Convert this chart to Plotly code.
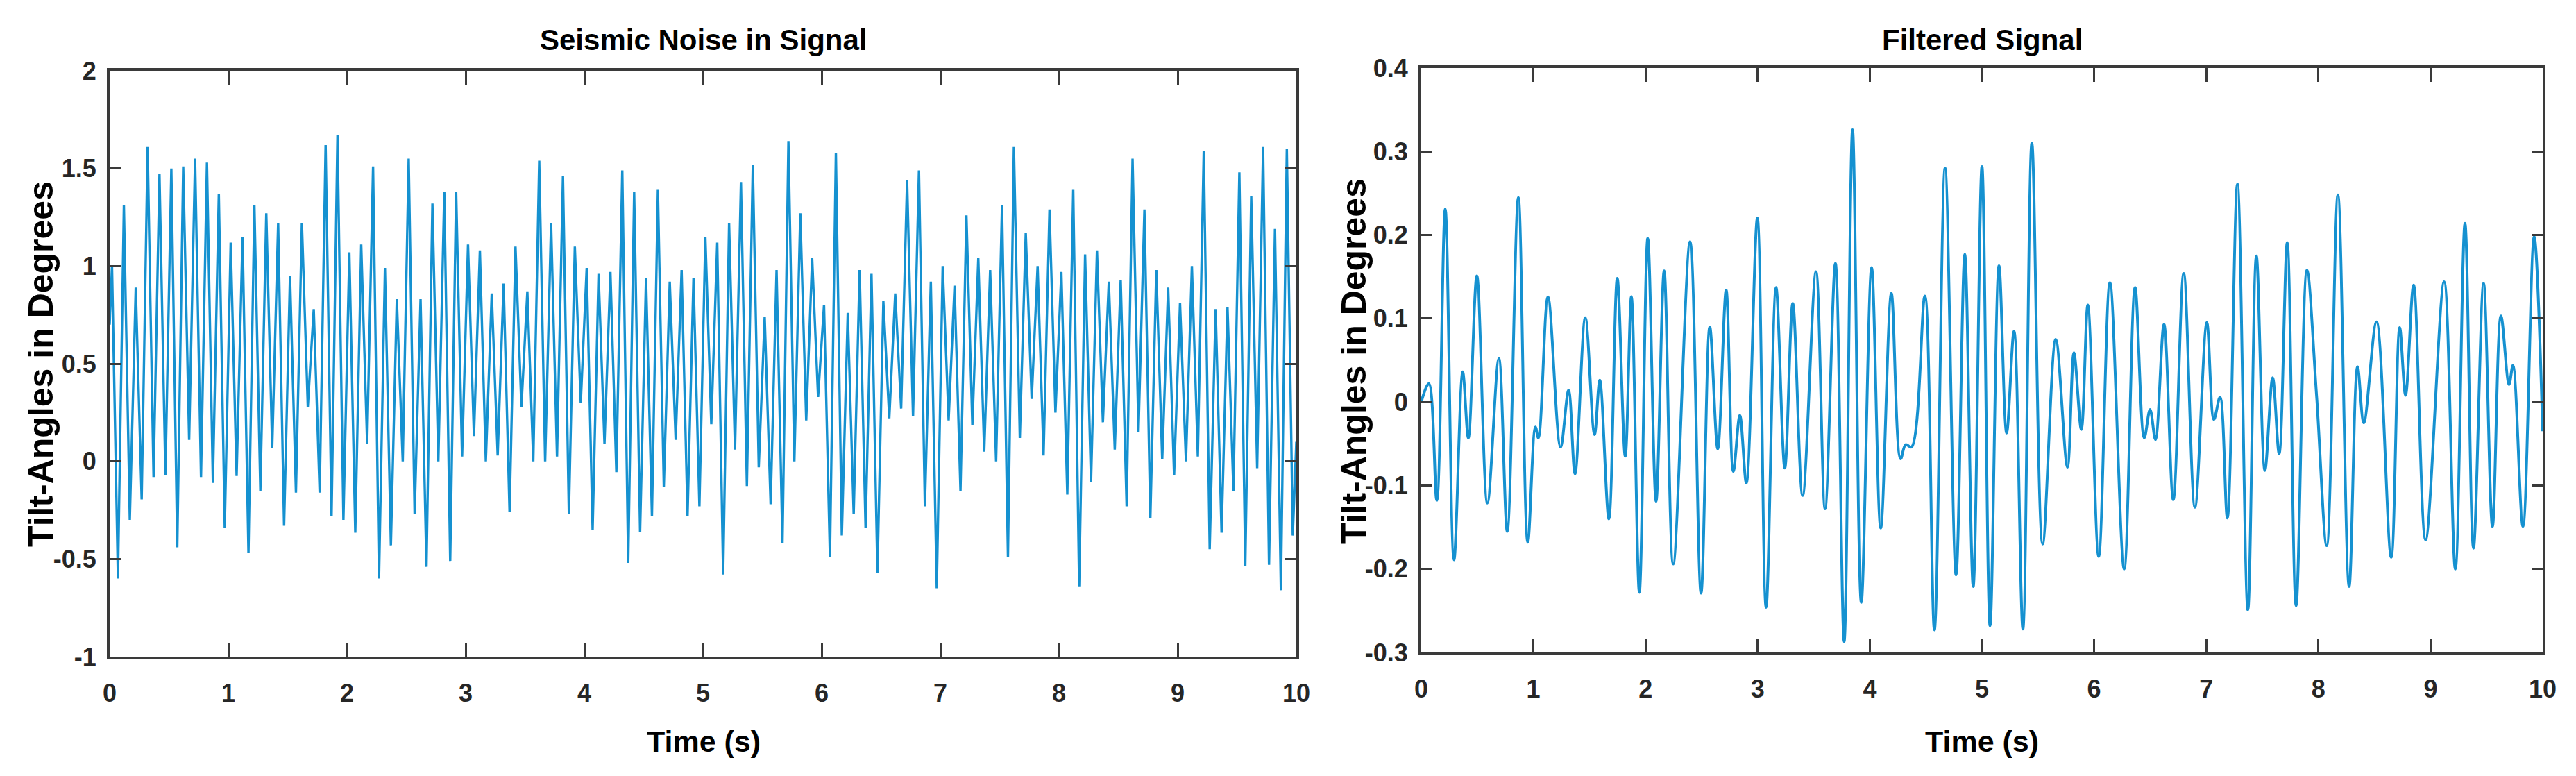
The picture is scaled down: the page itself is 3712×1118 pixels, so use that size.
import numpy as np
import plotly.graph_objects as go

# raw (noisy) signal: peaks and troughs, ~10 Hz
noise_start = 0.70
noise_end = 0.10
noise_peaks = [
    1.00, 1.31, 0.89, 1.61, 1.47, 1.50, 1.51, 1.55, 1.53, 1.37,
    1.12, 1.15, 1.31, 1.27, 1.22, 0.95, 1.22, 0.78, 1.62, 1.67,
    1.07, 1.11, 1.51, 0.99, 0.83, 1.55, 0.83, 1.32, 1.38, 1.38,
    1.11, 1.08, 0.86, 0.91, 1.10, 0.87, 1.54, 1.22, 1.46, 1.10,
    0.99, 0.96, 0.97, 1.49, 1.38, 0.94, 1.39, 0.92, 0.98, 0.94,
    1.15, 1.12, 1.22, 1.43, 1.52, 0.74, 0.98, 1.64, 1.27, 1.04,
    0.80, 1.58, 0.76, 0.98, 0.96, 0.82, 0.86, 1.44, 1.49, 0.92,
    1.00, 0.90, 1.26, 1.04, 0.98, 1.31, 1.61, 1.17, 1.00, 1.29,
    0.97, 1.39, 1.06, 1.08, 0.92, 0.93, 1.55, 1.29, 0.98, 0.89,
    0.81, 1.00, 1.59, 0.78, 0.79, 1.48, 1.36, 1.61, 1.19, 1.60,
]
noise_troughs = [
    -0.60, -0.30, -0.195, -0.08, -0.07, -0.44, 0.11, -0.08, -0.11, -0.34,
    -0.075, -0.47, -0.15, 0.07, -0.33, -0.16, 0.28, -0.16, -0.28, -0.30,
    -0.365, 0.09, -0.60, -0.43, 0.0, -0.27, -0.54, 0.0, -0.51, 0.025,
    0.13, 0.0, 0.03, -0.26, 0.28, 0.0, 0.0, 0.025, -0.27, 0.30,
    -0.35, 0.09, -0.055, -0.52, -0.36, -0.28, -0.13, 0.11, -0.28, -0.23,
    0.19, -0.58, 0.06, -0.126, -0.03, -0.22, -0.42, 0.0, 0.21, 0.33,
    -0.49, -0.38, -0.27, -0.34, -0.57, 0.22, 0.27, 0.23, -0.23, -0.65,
    0.21, -0.15, 0.185, 0.05, 0.0, -0.49, 0.12, 0.32, 0.03, 0.25,
    -0.17, -0.64, -0.105, 0.20, 0.06, -0.23, 0.15, -0.29, 0.01, -0.07,
    0.0, 0.025, -0.45, -0.365, -0.15, -0.535, -0.035, -0.53, -0.66, -0.38,
]

# filtered signal: turning points (time, value)
filt_t = [
    0, 0.068, 0.139, 0.214, 0.292, 0.37, 0.42, 0.496, 0.59, 0.692,
    0.767, 0.866, 0.95, 1.018, 1.045, 1.13, 1.242, 1.314, 1.371, 1.463,
    1.545, 1.592, 1.673, 1.748, 1.819, 1.874, 1.945, 2.02, 2.094, 2.166,
    2.247, 2.397, 2.495, 2.573, 2.644, 2.719, 2.783, 2.841, 2.899, 2.997,
    3.075, 3.164, 3.242, 3.313, 3.401, 3.52, 3.601, 3.693, 3.771, 3.846,
    3.924, 4.016, 4.097, 4.192, 4.274, 4.32, 4.372, 4.491, 4.576, 4.671,
    4.769, 4.847, 4.922, 5.0, 5.072, 5.152, 5.22, 5.286, 5.365, 5.445,
    5.541, 5.658, 5.762, 5.82, 5.886, 5.944, 6.041, 6.141, 6.268, 6.365,
    6.447, 6.499, 6.547, 6.623, 6.706, 6.799, 6.899, 7.005, 7.068, 7.123,
    7.188, 7.278, 7.371, 7.447, 7.523, 7.592, 7.65, 7.722, 7.801, 7.898,
    7.984, 8.074, 8.174, 8.274, 8.349, 8.405, 8.518, 8.649, 8.725, 8.777,
    8.849, 8.956, 9.121, 9.221, 9.307, 9.383, 9.473, 9.552, 9.628, 9.70,
    9.735, 9.824, 9.924, 10.0,
]
filt_v = [
    0.0, 0.022, -0.118, 0.231, -0.189, 0.036, -0.043, 0.151, -0.121, 0.052,
    -0.155, 0.245, -0.168, -0.030, -0.043, 0.126, -0.054, 0.014, -0.086, 0.101,
    -0.039, 0.026, -0.140, 0.148, -0.065, 0.126, -0.228, 0.196, -0.119, 0.157,
    -0.194, 0.192, -0.229, 0.090, -0.056, 0.134, -0.083, -0.016, -0.097, 0.220,
    -0.246, 0.137, -0.079, 0.118, -0.112, 0.156, -0.128, 0.166, -0.287, 0.326,
    -0.240, 0.161, -0.151, 0.130, -0.068, -0.051, -0.054, 0.127, -0.273, 0.280,
    -0.207, 0.177, -0.221, 0.282, -0.268, 0.163, -0.037, 0.085, -0.272, 0.310,
    -0.170, 0.075, -0.078, 0.059, -0.033, 0.116, -0.185, 0.143, -0.200, 0.137,
    -0.043, -0.009, -0.045, 0.093, -0.117, 0.154, -0.126, 0.095, -0.021, 0.006,
    -0.139, 0.261, -0.249, 0.175, -0.082, 0.029, -0.062, 0.191, -0.244, 0.158,
    0.007, -0.172, 0.248, -0.221, 0.042, -0.025, 0.096, -0.186, 0.089, 0.008,
    0.140, -0.165, 0.144, -0.200, 0.214, -0.175, 0.142, -0.149, 0.103, 0.021,
    0.044, -0.149, 0.198, -0.035,
]

x_ticks = [0, 1, 2, 3, 4, 5, 6, 7, 8, 9, 10]
y1_ticks = [-1, -0.5, 0, 0.5, 1, 1.5, 2]
y1_labels = ["-1", "-0.5", "0", "0.5", "1", "1.5", "2"]
y2_ticks = [-0.3, -0.2, -0.1, 0, 0.1, 0.2, 0.3, 0.4]
y2_labels = ["-0.3", "-0.2", "-0.1", "0", "0.1", "0.2", "0.3", "0.4"]

# peaks sit at 0.02 + 0.1k, troughs half a period later
k = np.arange(len(noise_peaks))
noise_t = np.concatenate([[0.0], np.ravel(np.column_stack([0.02 + 0.1 * k, 0.07 + 0.1 * k])), [10.0]])
noise_v = np.concatenate([[noise_start], np.ravel(np.column_stack([noise_peaks, noise_troughs])), [noise_end]])

W, H = 3712, 1118
blue = "#1591d0"
ink = "#262626"
font = "Liberation Sans, Arial"

fig = go.Figure()
fig.add_trace(go.Scatter(x=noise_t, y=noise_v, mode="lines",
                         line=dict(color=blue, width=3.4), xaxis="x", yaxis="y"))
fig.add_trace(go.Scatter(x=filt_t, y=filt_v, mode="lines",
                         line=dict(color=blue, width=4, shape="spline", smoothing=1.0),
                         xaxis="x2", yaxis="y2"))

axis_common = dict(showgrid=False, zeroline=False, showline=True, linecolor="#3a3a3a",
                   linewidth=4, mirror="ticks", ticks="inside", tickcolor="#3a3a3a",
                   tickwidth=3, automargin=False,
                   tickfont=dict(family=font, size=36, color=ink, weight="bold"))

fig.update_layout(
    width=W, height=H,
    margin=dict(l=0, r=0, t=0, b=0, autoexpand=False),
    paper_bgcolor="white", plot_bgcolor="white",
    showlegend=False,
    xaxis=dict(axis_common, domain=[150 / W, 1860 / W], range=[0, 10],
               tickvals=x_ticks, ticklen=20, ticklabelstandoff=18, anchor="y"),
    yaxis=dict(axis_common, domain=[1 - 938 / H, 1 - 94 / H], range=[-1, 2],
               tickvals=y1_ticks, ticktext=y1_labels, ticklen=16,
               ticklabelstandoff=8, anchor="x"),
    xaxis2=dict(axis_common, domain=[2040 / W, 3656 / W], range=[0, 10],
                tickvals=x_ticks, ticklen=20, ticklabelstandoff=18, anchor="y2"),
    yaxis2=dict(axis_common, domain=[1 - 932 / H, 1 - 90 / H], range=[-0.3, 0.4],
                tickvals=y2_ticks, ticktext=y2_labels, ticklen=16,
                ticklabelstandoff=8, anchor="x2"),
)

def label(text, x, y, size, angle=0):
    fig.add_annotation(text="<b>" + text + "</b>", x=x / W, y=1 - y / H,
                       xref="paper", yref="paper", showarrow=False,
                       xanchor="center", yanchor="middle", textangle=angle,
                       font=dict(family=font, size=size, color="black"))

label("Seismic Noise in Signal", 1006, 50, 42)
label("Filtered Signal", 2848, 50, 42)
label("Time (s)", 1006, 1060, 43)
label("Time (s)", 2848, 1060, 43)
label("Tilt-Angles in Degrees", 51, 517, 50, -90)
label("Tilt-Angles in Degrees", 1943, 513, 50, -90)

fig.write_html("out.html")
